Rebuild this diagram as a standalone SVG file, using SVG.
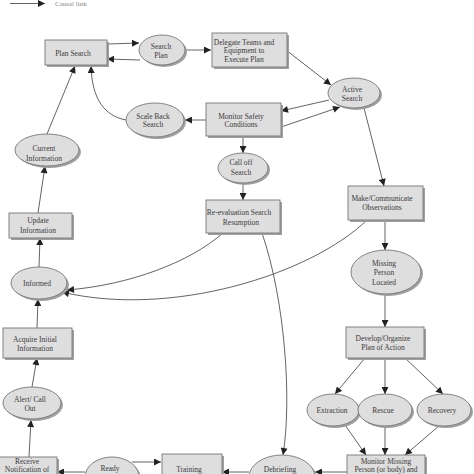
<svg xmlns="http://www.w3.org/2000/svg" width="474" height="474" viewBox="0 0 474 474">
<style>
.b{fill:#dedede;stroke:#777;stroke-width:0.9}
.s{fill:#a0a0a0;stroke:none}
.t{font-family:"Liberation Serif","Times New Roman",serif;font-size:7.5px;fill:#3a3a3a;text-anchor:middle}
.c{fill:none;stroke:#3c3c3c;stroke-width:0.8}
</style>
<defs>
<marker id="ah" viewBox="0 0 10 10" refX="10" refY="5" markerWidth="9" markerHeight="7" markerUnits="userSpaceOnUse" orient="auto">
<path d="M0,0 L10,5 L0,10 z" fill="#222"/>
</marker>
</defs>
<rect width="474" height="474" fill="#fff"/>

<g id="legend">
<line x1="10" y1="3.5" x2="45" y2="3.5" class="c" marker-end="url(#ah)"/>
<text x="55" y="6" style="font-family:'Liberation Serif',serif;font-size:7px;fill:#888">Causal link</text>
</g>

<g id="connectors">
<line class="c" x1="107" y1="44" x2="139" y2="43" marker-end="url(#ah)"/>
<line class="c" x1="140" y1="60" x2="107" y2="59" marker-end="url(#ah)"/>
<line class="c" x1="185" y1="50" x2="211" y2="50" marker-end="url(#ah)"/>
<line class="c" x1="286" y1="50" x2="331" y2="85" marker-end="url(#ah)"/>
<line class="c" x1="329" y1="100" x2="281" y2="111" marker-end="url(#ah)"/>
<line class="c" x1="281" y1="127" x2="340" y2="107" marker-end="url(#ah)"/>
<line class="c" x1="206" y1="120" x2="185" y2="120" marker-end="url(#ah)"/>
<path class="c" d="M126,120 C105,116 92,100 91,66" marker-end="url(#ah)"/>
<line class="c" x1="47" y1="134" x2="75" y2="66" marker-end="url(#ah)"/>
<line class="c" x1="38" y1="213" x2="45" y2="166" marker-end="url(#ah)"/>
<line class="c" x1="39" y1="267" x2="40" y2="238" marker-end="url(#ah)"/>
<line class="c" x1="243" y1="136" x2="243" y2="153" marker-end="url(#ah)"/>
<line class="c" x1="243" y1="183" x2="243" y2="200" marker-end="url(#ah)"/>
<path class="c" d="M223,233 C190,262 130,285 67,290" marker-end="url(#ah)"/>
<line class="c" x1="364" y1="108" x2="384" y2="186" marker-end="url(#ah)"/>
<path class="c" d="M367,220 C310,275 170,318 62,292" marker-end="url(#ah)"/>
<path class="c" d="M262,233 C285,300 292,400 283,455" marker-end="url(#ah)"/>
<line class="c" x1="385" y1="220" x2="385" y2="250" marker-end="url(#ah)"/>
<line class="c" x1="385" y1="295" x2="385" y2="327" marker-end="url(#ah)"/>
<line class="c" x1="365" y1="358" x2="335" y2="394" marker-end="url(#ah)"/>
<line class="c" x1="385" y1="358" x2="385" y2="394" marker-end="url(#ah)"/>
<line class="c" x1="405" y1="358" x2="443" y2="394" marker-end="url(#ah)"/>
<line class="c" x1="345" y1="425" x2="366" y2="455" marker-end="url(#ah)"/>
<line class="c" x1="385" y1="426" x2="385" y2="455" marker-end="url(#ah)"/>
<line class="c" x1="440" y1="425" x2="405" y2="455" marker-end="url(#ah)"/>
<line class="c" x1="347" y1="472" x2="315" y2="472" marker-end="url(#ah)"/>
<line class="c" x1="249" y1="472" x2="222" y2="472" marker-end="url(#ah)"/>
<line class="c" x1="85" y1="472" x2="57" y2="472" marker-end="url(#ah)"/>
<line class="c" x1="132" y1="462" x2="161" y2="462" marker-end="url(#ah)"/>
<line class="c" x1="29" y1="457" x2="31" y2="420" marker-end="url(#ah)"/>
<line class="c" x1="32" y1="387" x2="37" y2="358" marker-end="url(#ah)"/>
<line class="c" x1="37" y1="328" x2="38" y2="299" marker-end="url(#ah)"/>
</g>

<g id="plan-search">
<rect class="s" x="47" y="42" width="62" height="25"/>
<rect class="b" x="45" y="40" width="62" height="25"/>
<text class="t" x="73" y="55.5">Plan Search</text>
</g>
<g id="search-plan">
<ellipse class="s" cx="164" cy="52" rx="23" ry="15"/>
<ellipse class="b" cx="162" cy="50" rx="23" ry="15"/>
<text class="t" x="161" y="48.5">Search</text>
<text class="t" x="161" y="57.5">Plan</text>
</g>
<g id="delegate">
<rect class="s" x="214" y="35" width="75" height="34"/>
<rect class="b" x="212" y="33" width="75" height="34"/>
<text class="t" x="244" y="44.5">Delegate Teams and</text>
<text class="t" x="244" y="52.5">Equipment to</text>
<text class="t" x="244" y="61.5">Execute Plan</text>
</g>
<g id="active-search">
<ellipse class="s" cx="356" cy="95" rx="26" ry="15"/>
<ellipse class="b" cx="354" cy="93" rx="26" ry="15"/>
<text class="t" x="352" y="91.5">Active</text>
<text class="t" x="352" y="101">Search</text>
</g>
<g id="monitor-safety">
<rect class="s" x="208" y="105" width="75" height="33"/>
<rect class="b" x="206" y="103" width="75" height="33"/>
<text class="t" x="241" y="118.5">Monitor Safety</text>
<text class="t" x="241" y="127">Conditions</text>
</g>
<g id="scale-back">
<ellipse class="s" cx="157" cy="122" rx="29" ry="17"/>
<ellipse class="b" cx="155" cy="120" rx="29" ry="17"/>
<text class="t" x="153" y="118.5">Scale Back</text>
<text class="t" x="153" y="127">Search</text>
</g>
<g id="call-off">
<ellipse class="s" cx="245" cy="170" rx="25" ry="15"/>
<ellipse class="b" cx="243" cy="168" rx="25" ry="15"/>
<text class="t" x="241" y="165">Call off</text>
<text class="t" x="241" y="174.5">Search</text>
</g>
<g id="current-info">
<ellipse class="s" cx="49" cy="152" rx="32" ry="16"/>
<ellipse class="b" cx="47" cy="150" rx="32" ry="16"/>
<text class="t" x="44" y="151">Current</text>
<text class="t" x="44" y="160.5">Information</text>
</g>
<g id="update-info">
<rect class="s" x="11" y="215" width="63" height="25"/>
<rect class="b" x="9" y="213" width="63" height="25"/>
<text class="t" x="38" y="223">Update</text>
<text class="t" x="38" y="232.5">Information</text>
</g>
<g id="informed">
<ellipse class="s" cx="41" cy="285" rx="28" ry="16"/>
<ellipse class="b" cx="39" cy="283" rx="28" ry="16"/>
<text class="t" x="37" y="286">Informed</text>
</g>
<g id="re-evaluation">
<rect class="s" x="208" y="202" width="74" height="33"/>
<rect class="b" x="206" y="200" width="74" height="33"/>
<text class="t" x="239" y="215">Re-evaluation Search</text>
<text class="t" x="241" y="224.5">Resumption</text>
</g>
<g id="make-communicate">
<rect class="s" x="350" y="188" width="75" height="34"/>
<rect class="b" x="348" y="186" width="75" height="34"/>
<text class="t" x="382" y="201">Make/Communicate</text>
<text class="t" x="382" y="210">Observations</text>
</g>
<g id="missing-person">
<ellipse class="s" cx="388" cy="274" rx="35" ry="22"/>
<ellipse class="b" cx="386" cy="272" rx="35" ry="22"/>
<text class="t" x="384" y="266">Missing</text>
<text class="t" x="384" y="275">Person</text>
<text class="t" x="384" y="284.5">Located</text>
</g>
<g id="develop">
<rect class="s" x="348" y="329" width="78" height="31"/>
<rect class="b" x="346" y="327" width="78" height="31"/>
<text class="t" x="383" y="341">Develop/Organize</text>
<text class="t" x="383" y="350">Plan of Action</text>
</g>
<g id="extraction">
<ellipse class="s" cx="335" cy="412" rx="26" ry="16"/>
<ellipse class="b" cx="333" cy="410" rx="26" ry="16"/>
<text class="t" x="332" y="413">Extraction</text>
</g>
<g id="rescue">
<ellipse class="s" cx="387" cy="412" rx="27" ry="16"/>
<ellipse class="b" cx="385" cy="410" rx="27" ry="16"/>
<text class="t" x="383" y="413">Rescue</text>
</g>
<g id="recovery">
<ellipse class="s" cx="446" cy="412" rx="27" ry="16"/>
<ellipse class="b" cx="444" cy="410" rx="27" ry="16"/>
<text class="t" x="442" y="413">Recovery</text>
</g>
<g id="acquire">
<rect class="s" x="5" y="330" width="69" height="30"/>
<rect class="b" x="3" y="328" width="69" height="30"/>
<text class="t" x="35" y="342">Acquire Initial</text>
<text class="t" x="35" y="351">Information</text>
</g>
<g id="alert">
<ellipse class="s" cx="34" cy="405" rx="29" ry="16"/>
<ellipse class="b" cx="32" cy="403" rx="29" ry="16"/>
<text class="t" x="30" y="402">Alert/ Call</text>
<text class="t" x="30" y="410.5">Out</text>
</g>
<g id="receive">
<rect class="s" x="-3" y="459" width="62" height="30"/>
<rect class="b" x="-5" y="457" width="62" height="30"/>
<text class="t" x="27" y="464">Receive</text>
<text class="t" x="27" y="471.5">Notification of</text>
</g>
<g id="ready">
<ellipse class="s" cx="114" cy="479" rx="27" ry="20"/>
<ellipse class="b" cx="112" cy="477" rx="27" ry="20"/>
<text class="t" x="110" y="470.5">Ready</text>
</g>
<g id="training">
<rect class="s" x="164" y="456" width="60" height="30"/>
<rect class="b" x="162" y="454" width="60" height="30"/>
<text class="t" x="189" y="471.5">Training</text>
</g>
<g id="debriefing">
<ellipse class="s" cx="284" cy="479" rx="33" ry="22"/>
<ellipse class="b" cx="282" cy="477" rx="33" ry="22"/>
<text class="t" x="280" y="471.5">Debriefing</text>
</g>
<g id="monitor-missing">
<rect class="s" x="349" y="457" width="78" height="30"/>
<rect class="b" x="347" y="455" width="78" height="30"/>
<text class="t" x="386" y="464">Monitor Missing</text>
<text class="t" x="386" y="471.5">Person (or body) and</text>
</g>
</svg>
